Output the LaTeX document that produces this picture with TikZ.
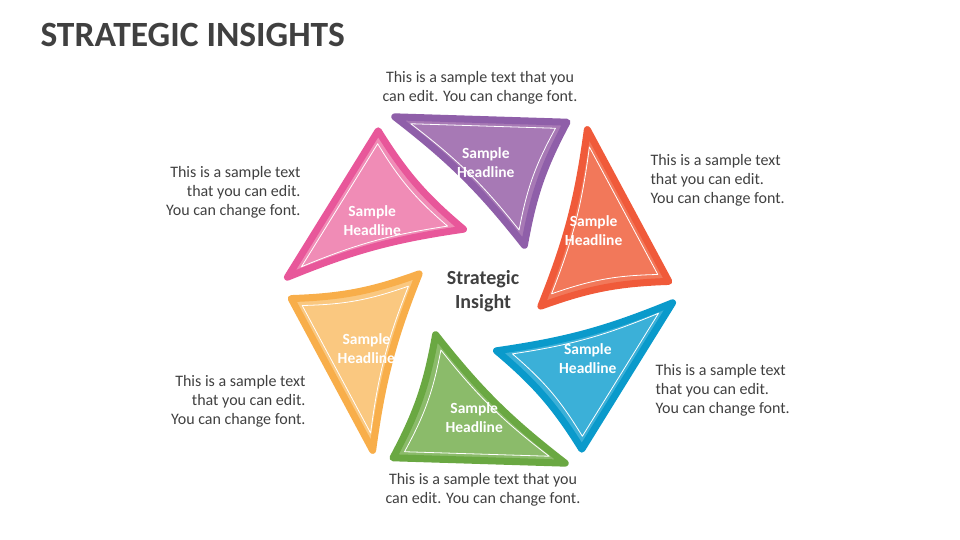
\documentclass[tikz,border=0pt]{standalone}
\usepackage{fontspec}
\setmainfont{Carlito}
\usetikzlibrary{calc}
\definecolor{txt}{HTML}{404040}
\definecolor{pinkD}{HTML}{E8579A}\definecolor{pinkL}{HTML}{F08CB6}
\definecolor{purD}{HTML}{8F5FA9}\definecolor{purL}{HTML}{A779B5}
\definecolor{oraD}{HTML}{F05A3A}\definecolor{oraL}{HTML}{F2785A}
\definecolor{bluD}{HTML}{0A9ACB}\definecolor{bluL}{HTML}{3BB0D8}
\definecolor{greD}{HTML}{6AA842}\definecolor{greL}{HTML}{8BBB6A}
\definecolor{yelD}{HTML}{F8AE4A}\definecolor{yelL}{HTML}{FAC880}
\tikzset{
 head/.style={text=white,font=\bfseries\fontsize{15.5}{19}\selectfont,align=center},
 desc/.style={text=txt,font=\fontsize{16}{19}\selectfont},
}
\begin{document}
\begin{tikzpicture}[x=1pt,y=1pt]
\useasboundingbox (-480,-250) rectangle (480,290);
\node[anchor=west,text=txt,font=\bfseries\fontsize{35.5}{40}\selectfont] (title) at (-443,255) {STRATEGIC INSIGHTS};
\foreach \a/\dk/\lt [count=\i] in {0/pinkD/pinkL,-60/purD/purL,-120/oraD/oraL,-180/bluD/bluL,-240/greD/greL,-300/yelD/yelL}{
  \coordinate (A\i) at (122.6+\a:189);
  \coordinate (B\i) at (105.2+\a:63);
  \coordinate (C\i) at (176.2+\a:193);
  \coordinate (M\i) at (143.4+\a:130.8);
  \draw[line width=7pt,draw=\dk,fill=\lt,line join=round] (A\i) to[bend right=9] (B\i) to[bend right=7] (C\i) -- cycle;
  \draw[white,line width=0.8pt,line join=round] ($(M\i)!0.84!(A\i)$) to[bend right=9] ($(M\i)!0.82!(B\i)$) to[bend right=7] ($(M\i)!0.84!(C\i)$) -- cycle;
  \node[head] (h\i) at (147.4+\a:128) {Sample\\Headline};
}
\node[text=txt,font=\bfseries\fontsize{20}{24}\selectfont,align=center] (center) at (3,-1) {Strategic\\Insight};
\node[desc,align=center] (d1) at (0,202) {This is a sample text that you\\can edit. You can change font.};
\node[desc,align=right,anchor=east] (d2) at (-176,98) {This is a sample text\\that you can edit.\\You can change font.};
\node[desc,align=left,anchor=west] (d3) at (167,110) {This is a sample text\\that you can edit.\\You can change font.};
\node[desc,align=left,anchor=west] (d4) at (172,-100) {This is a sample text\\that you can edit.\\You can change font.};
\node[desc,align=right,anchor=east] (d5) at (-171,-111) {This is a sample text\\that you can edit.\\You can change font.};
\node[desc,align=center] (d6) at (3,-200) {This is a sample text that you\\can edit. You can change font.};
\end{tikzpicture}
\end{document}
